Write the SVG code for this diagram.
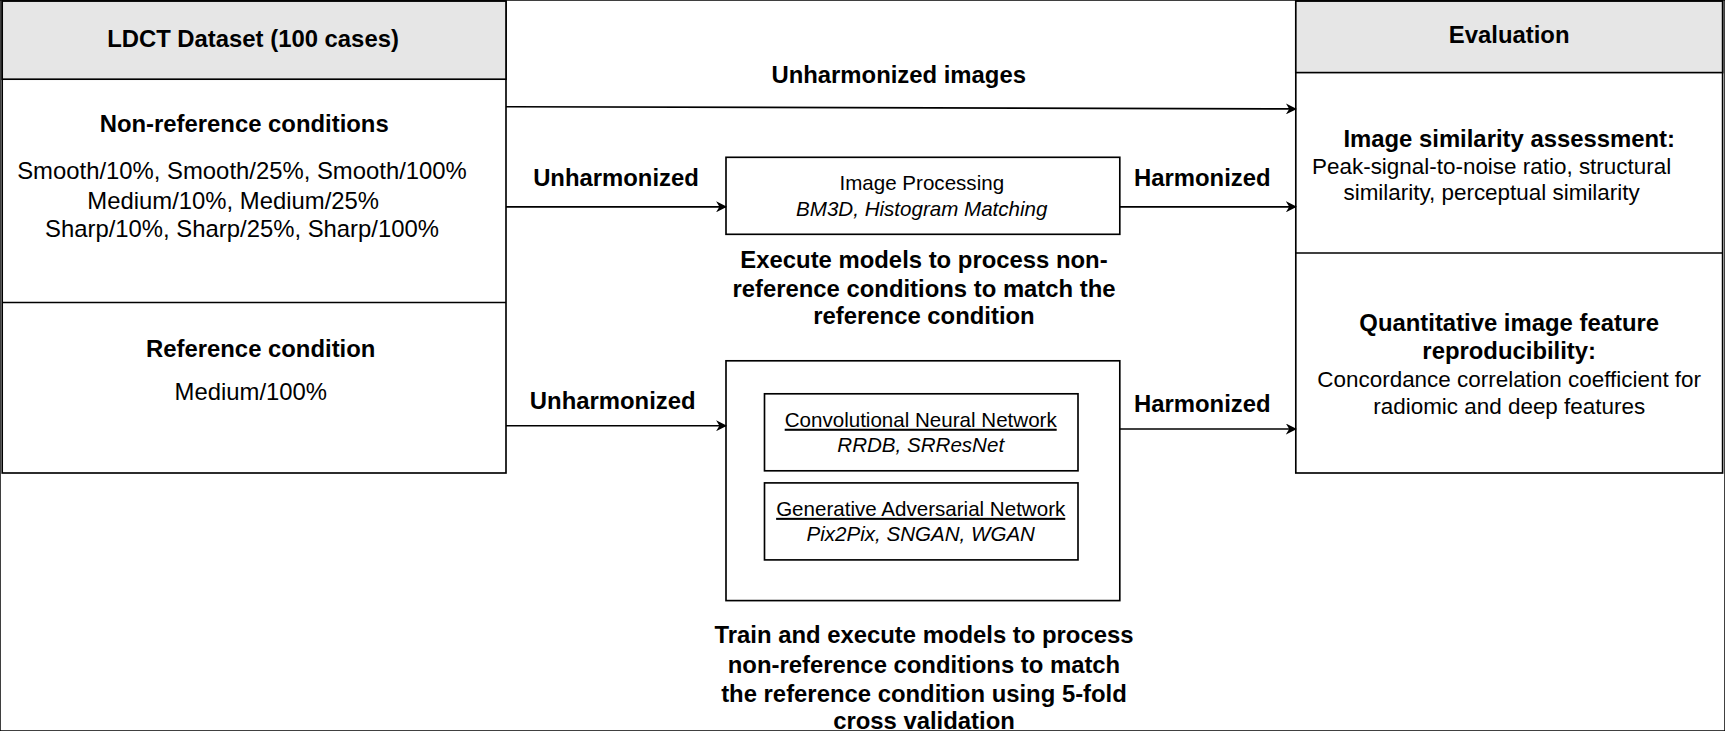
<svg xmlns="http://www.w3.org/2000/svg" width="1725" height="731" viewBox="0 0 1725 731">
<defs>
<marker id="ah" markerWidth="10" markerHeight="10" refX="9" refY="5" orient="auto" markerUnits="userSpaceOnUse"><path d="M0,0 L10,5 L0,10 L3,5 z" fill="#000"/></marker>
<style>
text{font-family:"Liberation Sans",Arial,sans-serif;fill:#000;text-anchor:middle;dominant-baseline:middle}
.b{font-weight:bold;font-size:21.7px}
.n{font-size:21.7px}
.m{font-size:18px}
.c{font-size:20.4px}
.s{font-size:18.7px}
.i{font-style:italic;font-size:18.7px}
.u{text-decoration:underline;font-size:18.7px}
rect{stroke:#000;stroke-width:1.5;fill:#fff}
.h{fill:#e6e6e6}
line{stroke:#000;stroke-width:1.5}
</style>
</defs>
<rect width="1725" height="731" fill="#fff" stroke="none"/>
<g transform="scale(1.1)">
<g id="dataset">
<rect x="2" y="1" width="458" height="429"/>
<rect class="h" x="2" y="1" width="458" height="71"/>
<line x1="2" y1="275" x2="460" y2="275"/>
<text class="b" x="230" y="37">LDCT Dataset (100 cases)</text>
<text class="b" x="222" y="114">Non-reference conditions</text>
<text class="n" x="220" y="157">Smooth/10%, Smooth/25%, Smooth/100%</text>
<text class="n" x="212" y="184">Medium/10%, Medium/25%</text>
<text class="n" x="220" y="210">Sharp/10%, Sharp/25%, Sharp/100%</text>
<text class="b" x="237" y="319">Reference condition</text>
<text class="n" x="228" y="358">Medium/100%</text>
</g>
<g id="evaluation">
<rect x="1178" y="1" width="388" height="429"/>
<rect class="h" x="1178" y="1" width="388" height="65"/>
<line x1="1178" y1="230" x2="1566" y2="230"/>
<text class="b" x="1372" y="33">Evaluation</text>
<text class="b" x="1372" y="128">Image similarity assessment:</text>
<text class="c" x="1356" y="153">Peak-signal-to-noise ratio, structural</text>
<text class="c" x="1356" y="176">similarity, perceptual similarity</text>
<text class="b" x="1372" y="295">Quantitative image feature</text>
<text class="b" x="1372" y="321">reproducibility:</text>
<text class="c" x="1372" y="346">Concordance correlation coefficient for</text>
<text class="c" x="1372" y="371">radiomic and deep features</text>
</g>
<g id="image-processing">
<rect x="660" y="143" width="358" height="70"/>
<text class="s" x="838" y="168">Image Processing</text>
<text class="i" x="838" y="191">BM3D, Histogram Matching</text>
<text class="b" x="840" y="238">Execute models to process non-</text>
<text class="b" x="840" y="264">reference conditions to match the</text>
<text class="b" x="840" y="289">reference condition</text>
</g>
<g id="deep-learning">
<rect x="660" y="328" width="358" height="218"/>
<rect x="695" y="358" width="285" height="70"/>
<text class="u" x="837" y="383">Convolutional Neural Network</text>
<text class="i" x="837" y="406">RRDB, SRResNet</text>
<rect x="695" y="439" width="285" height="70"/>
<text class="u" x="837" y="464">Generative Adversarial Network</text>
<text class="i" x="837" y="487">Pix2Pix, SNGAN, WGAN</text>
<text class="b" x="840" y="579">Train and execute models to process</text>
<text class="b" x="840" y="606">non-reference conditions to match</text>
<text class="b" x="840" y="632">the reference condition using 5-fold</text>
<text class="b" x="840" y="657">cross validation</text>
</g>
<g id="connectors">
<line x1="460" y1="97" x2="1178" y2="99" marker-end="url(#ah)"/>
<text class="b" x="817" y="70">Unharmonized images</text>
<line x1="460" y1="188" x2="660" y2="188" marker-end="url(#ah)"/>
<text class="b" x="560" y="163">Unharmonized</text>
<line x1="1018" y1="188" x2="1178" y2="188" marker-end="url(#ah)"/>
<text class="b" x="1093" y="163">Harmonized</text>
<line x1="460" y1="387" x2="660" y2="387" marker-end="url(#ah)"/>
<text class="b" x="557" y="366">Unharmonized</text>
<line x1="1018" y1="390" x2="1178" y2="390" marker-end="url(#ah)"/>
<text class="b" x="1093" y="369">Harmonized</text>
</g>
</g>
</svg>
